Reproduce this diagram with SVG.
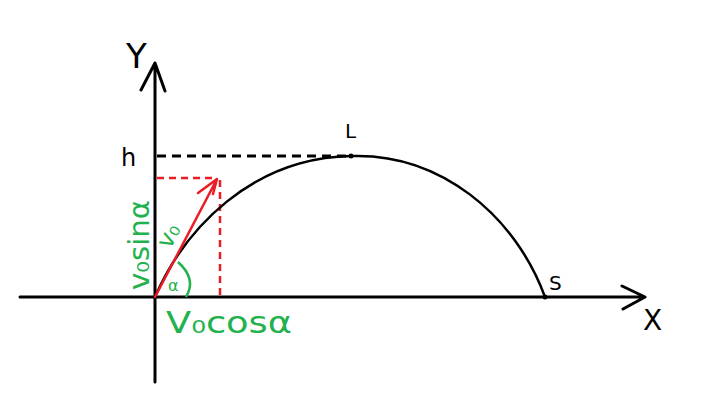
<svg xmlns="http://www.w3.org/2000/svg" width="719" height="406" viewBox="0 0 719 406">
<style>
.ax{stroke:#000;stroke-width:3;fill:none;stroke-linecap:round;stroke-linejoin:round}
.cur{stroke:#000;stroke-width:2.5;fill:none}
.dk{stroke:#000;stroke-width:3;stroke-dasharray:9 6;fill:none}
.dr{stroke:#ed1c24;stroke-width:2.5;stroke-dasharray:7 5;fill:none}
.red{stroke:#ed1c24;stroke-width:2.5;fill:none;stroke-linecap:round;stroke-linejoin:round}
.g{fill:#22b14c;font-family:"Comic Sans MS","DejaVu Sans",sans-serif}
.k{fill:#000;font-family:"DejaVu Sans",sans-serif}
.garc{stroke:#22b14c;stroke-width:2.5;fill:none}
</style>
<rect width="719" height="406" fill="#fff"/>
<g id="axes">
<path class="ax" d="M155,382 L155,63 M141,90 L155,63 L165,91"/>
<path class="ax" d="M20,297 L645,297 M622,286 L645,297 L623,309"/>
<text class="k" x="126" y="68" font-size="34">Y</text>
<text class="k" x="643" y="330" font-size="28">X</text>
</g>
<g id="connectors">
<path class="dk" d="M157,156 L350,156"/>
<path class="dr" d="M157,178 L216,178 M220,180 L220,297"/>
<path class="cur" d="M155,297 C185,228 252,158 351,156 C440,153 515,215 545,297"/>
<path class="red" d="M155,297 L217,179 M198,193 L217,179 L213,194"/>
<path class="garc" d="M178,262 Q197,279 186,297"/>
</g>
<g id="h"><text class="k" x="121" y="166" font-size="24">h</text></g>
<g id="L"><circle cx="351" cy="156" r="2.5"/><text class="k" x="345" y="138" font-size="20">L</text></g>
<g id="S"><circle cx="545" cy="297" r="2.5"/><text class="k" x="549" y="290" font-size="20">S</text></g>
<g id="labels">
<text class="g" font-size="28" transform="translate(149,290) rotate(-90)" textLength="90" lengthAdjust="spacingAndGlyphs">v₀sinα</text>
<text class="g" font-size="24" transform="translate(170,250) rotate(-62)">v₀</text>
<text class="g" font-size="16" x="168" y="291">α</text>
<text class="g" font-size="30" x="166" y="333" textLength="126" lengthAdjust="spacingAndGlyphs">V₀cosα</text>
</g>
</svg>
